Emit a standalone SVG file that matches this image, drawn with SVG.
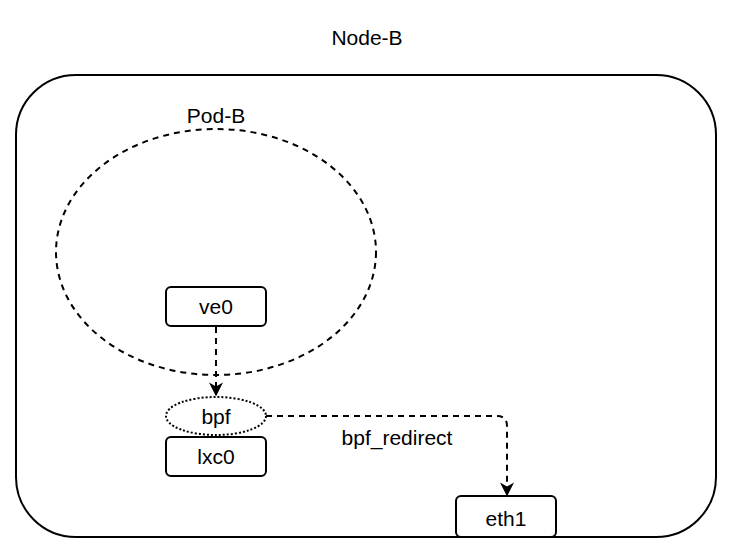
<svg xmlns="http://www.w3.org/2000/svg" width="734" height="554" viewBox="0 0 734 554">
<style>
text{font-family:"Liberation Sans",Arial,sans-serif;font-size:21px;fill:#000;text-anchor:middle;dominant-baseline:central}
.box{fill:#fff;stroke:#000;stroke-width:2}
.dash{fill:none;stroke:#000;stroke-width:2;stroke-dasharray:6 5}
</style>
<defs><marker id="ah" viewBox="0 0 10 10" refX="9" refY="5" markerWidth="7" markerHeight="7" markerUnits="strokeWidth" orient="auto"><path d="M0,0 L10,5 L0,10 L3,5 Z" fill="#000"/></marker></defs>
<rect width="734" height="554" fill="#fff"/>
<g id="node-b"><rect x="16" y="75" width="700" height="462" rx="60" fill="none" stroke="#000" stroke-width="2"/><text x="367" y="37">Node-B</text></g>
<g id="pod-b"><ellipse cx="216" cy="252" rx="160" ry="123" class="dash"/><text x="216" y="115">Pod-B</text></g>
<g id="ve0"><rect class="box" x="166" y="287" width="100" height="39" rx="5"/><text x="216" y="306">ve0</text></g>
<g id="bpf"><ellipse cx="216" cy="416" rx="50" ry="19" fill="#fff" stroke="#000" stroke-width="2" stroke-dasharray="2 2"/><text x="216" y="416">bpf</text></g>
<g id="lxc0"><rect class="box" x="166" y="437" width="100" height="39" rx="5"/><text x="216" y="456">lxc0</text></g>
<g id="eth1"><rect class="box" x="456" y="496" width="100" height="41" rx="5"/><text x="506" y="518">eth1</text></g>
<g id="connectors">
<path class="dash" d="M216,327 V395" marker-end="url(#ah)"/>
<path class="dash" d="M266,416 H497 Q507,416 507,426 V495" marker-end="url(#ah)"/>
<text x="397" y="437">bpf_redirect</text>
</g>
</svg>
